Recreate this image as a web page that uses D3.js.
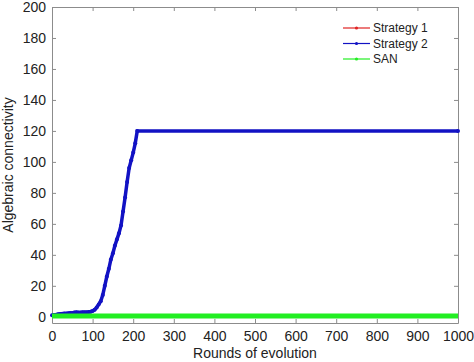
<!DOCTYPE html>
<html>
<head>
<meta charset="utf-8">
<script src="https://cdn.jsdelivr.net/npm/d3@7"></script>
<style>
    body { margin: 0; background: #fff; }
    text { font-family: "Liberation Sans", Arial, sans-serif; fill: #222; }
</style>
</head>
<body>
<svg id="chart" width="474" height="362"></svg>
<script>
// Values
const rounds = [0, 5, 10, 15, 20, 25, 30, 35, 40, 45, 50, 55, 60, 65, 70, 75, 80, 85, 90, 95,
    100, 105, 110, 115, 120, 125, 130, 135, 140, 145, 150, 155, 160, 165, 170, 175, 180, 185,
    190, 195, 200, 205, 210, 1000];
const strategy2 = [1, 1.2, 1.4, 1.6, 1.8, 2, 2.1, 2.2, 2.3, 2.4, 2.5, 2.8, 3, 2.8, 2.8, 2.9, 3, 3, 3.1, 3.3,
    3.8, 4.5, 6, 8, 10, 14, 20, 26, 31, 37, 41, 46, 50, 54, 59, 68, 77, 87,
    96, 101, 106, 112, 120, 120];
const flatRounds = [0, 1000];
const strategy1 = [0.5, 0.5];
const san = [0.5, 0.5];
const xTicks = [0, 100, 200, 300, 400, 500, 600, 700, 800, 900, 1000];
const yTicks = [0, 20, 40, 60, 80, 100, 120, 140, 160, 180, 200];
const seriesNames = ["Strategy 1", "Strategy 2", "SAN"];
const seriesColors = ["#e02424", "#1212c4", "#22ee22"];

const margin = {top: 7, right: 16, bottom: 39, left: 52};
const width = 474 - margin.left - margin.right;
const height = 362 - margin.top - margin.bottom;

let svg = d3.select("#chart");
let g = svg.append("g")
    .attr("transform", "translate(" + margin.left + "," + margin.top + ")");

let x = d3.scaleLinear().domain([0, 1000]).range([0, width]);
let y = d3.scaleLinear().domain([-4, 200]).range([height, 0]);

// axes with inward ticks, box with ticks on all sides
let axisColor = "#8c8c8c";
let styleAxis = sel => {
    sel.select(".domain").attr("stroke", axisColor);
    sel.selectAll(".tick line").attr("stroke", axisColor);
    sel.selectAll("text").style("font-size", "14px").attr("fill", "#222");
};

g.append("g")
    .attr("transform", "translate(0," + height + ")")
    .call(d3.axisBottom(x).tickValues(xTicks).tickFormat(d3.format("d"))
        .tickSizeInner(-4).tickSizeOuter(0).tickPadding(8))
    .call(styleAxis);
g.append("g")
    .call(d3.axisTop(x).tickValues(xTicks).tickSizeInner(-4).tickSizeOuter(0).tickFormat(""))
    .call(styleAxis);
g.append("g")
    .call(d3.axisLeft(y).tickValues(yTicks).tickSizeInner(-4).tickSizeOuter(0).tickPadding(6))
    .call(styleAxis);
g.append("g")
    .attr("transform", "translate(" + width + ",0)")
    .call(d3.axisRight(y).tickValues(yTicks).tickSizeInner(-4).tickSizeOuter(0).tickFormat(""))
    .call(styleAxis);

let line = d3.line()
    .x(d => x(d[0]))
    .y(d => y(d[1]));

let drawSeries = (xs, ys, color, lw, r) => {
    let pts = xs.map((v, i) => [v, ys[i]]);
    g.append("path")
        .datum(pts)
        .attr("fill", "none")
        .attr("stroke", color)
        .attr("stroke-width", lw)
        .attr("d", line);
    g.selectAll(null)
        .data(pts)
        .enter()
        .append("circle")
        .attr("cx", d => x(d[0]))
        .attr("cy", d => y(d[1]))
        .attr("r", r)
        .attr("fill", color);
};

drawSeries(flatRounds, strategy1, seriesColors[0], 4, 0);
drawSeries(rounds, strategy2, seriesColors[1], 3.5, 2);
drawSeries(flatRounds, san, seriesColors[2], 5, 0);

// legend
let legend = g.append("g")
    .attr("transform", "translate(291,21)");
let rows = legend.selectAll(".legendRow")
    .data(seriesNames)
    .enter()
    .append("g")
    .attr("class", "legendRow")
    .attr("transform", (d, i) => "translate(0," + (i * 15.5) + ")");
rows.append("line")
    .attr("x1", 0).attr("x2", 27)
    .attr("stroke", (d, i) => seriesColors[i])
    .attr("stroke-width", 1.2);
rows.append("circle")
    .attr("cx", 13.5).attr("r", 1.6)
    .attr("fill", (d, i) => seriesColors[i]);
rows.append("text")
    .attr("x", 30)
    .attr("dy", "0.35em")
    .style("font-size", "12px")
    .text(d => d);

// axis titles
svg.append("text")
    .attr("x", margin.left + width / 2)
    .attr("y", 358)
    .attr("text-anchor", "middle")
    .style("font-size", "14px")
    .text("Rounds of evolution");
svg.append("text")
    .attr("transform", "translate(13," + (margin.top + height / 2) + ") rotate(-90)")
    .attr("text-anchor", "middle")
    .style("font-size", "14px")
    .text("Algebraic connectivity");
</script>
</body>
</html>
